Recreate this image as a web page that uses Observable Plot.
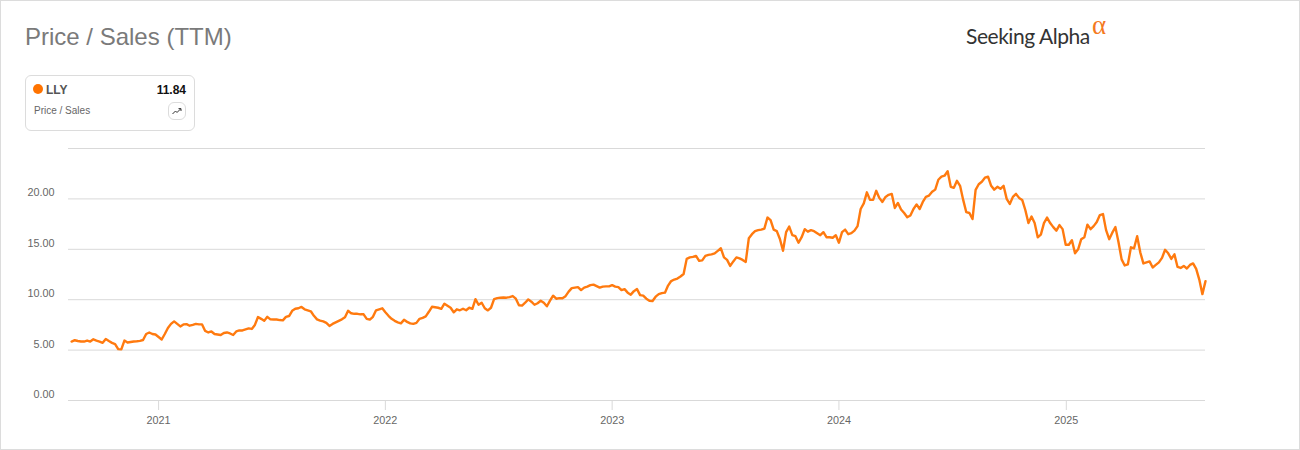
<!DOCTYPE html>
<html>
<head>
<meta charset="utf-8">
<script src="https://cdn.jsdelivr.net/npm/d3@7"></script>
<script src="https://cdn.jsdelivr.net/npm/@observablehq/plot@0.6"></script>
<style>
html,body{margin:0;padding:0;background:#fff;}
#page{position:relative;width:1300px;height:450px;box-sizing:border-box;overflow:hidden;font-family:"Liberation Sans",Arial,sans-serif;}
#frame{position:absolute;inset:0;border:1px solid #dcdcdc;box-sizing:border-box;pointer-events:none;}
#head{position:relative;height:140px;}
#title{position:absolute;left:25px;top:23px;font-size:24px;line-height:28px;color:#7a7a7a;}
#logo{position:absolute;left:966px;top:22px;width:125px;white-space:nowrap;font-family:Lato,sans-serif;font-size:21px;line-height:28px;color:#333;letter-spacing:-.45px;font-weight:400;}
#alpha{position:absolute;left:1092px;top:11px;font-family:"Liberation Serif",serif;font-size:27px;line-height:28px;color:#f47a1f;}
#card{position:absolute;left:25px;top:75px;width:170px;height:56px;box-sizing:border-box;border:1px solid #dcdcdc;border-radius:6px;}
#dot{position:absolute;left:7px;top:8px;width:10px;height:10px;border-radius:50%;background:#ff7300;}
#tick{position:absolute;left:20px;top:7px;font-size:12px;line-height:14px;font-weight:700;color:#555;}
#val{position:absolute;right:8px;top:7px;font-size:12px;line-height:14px;font-weight:700;color:#111;}
#sub{position:absolute;left:8px;top:28px;font-size:10px;line-height:14px;color:#666;}
#btn{position:absolute;left:142px;top:26px;width:18px;height:18px;box-sizing:border-box;border:1px solid #dcdcdc;border-radius:6px;}
#btn svg{position:absolute;left:3px;top:3px;}
#chart svg{display:block;background:transparent;}
</style>
</head>
<body>
<div id="page">
  <div id="head">
    <div id="title">Price / Sales (TTM)</div>
    <div id="logo">Seeking Alpha</div>
    <div id="alpha">α</div>
    <div id="card">
      <div id="dot"></div>
      <div id="tick">LLY</div>
      <div id="val">11.84</div>
      <div id="sub">Price / Sales</div>
      <div id="btn"><svg width="10" height="10" viewBox="0 0 10 10"><path d="M0.5 8 L3.5 5 L5 6.5 L8.5 3 M6.5 2.6 L9 2.6 L9 5" fill="none" stroke="#333" stroke-width="1"/></svg></div>
    </div>
  </div>
  <div id="chart"></div>
  <div id="frame"></div>
</div>
<script>
// Series start and sampling interval, then the values
const startDate = "2020-08-09";
const stepDays = 5;
const endDate = "2025-08-13";
const yearTicks = ["2021-01-01","2022-01-01","2023-01-01","2024-01-01","2025-01-01"];
const yTicks = [0,5,10,15,20];
const yGrid = [0,5,10,15,20,25];
const priceToSales = [
5.85,5.98,5.9,5.85,5.85,5.95,5.85,6.07,5.95,5.85,5.72,6.1,5.9,5.72,5.6,5.1,5.07,5.95,5.75,5.8,
5.85,5.88,5.92,6.0,6.6,6.75,6.6,6.55,6.3,6.05,6.6,7.2,7.6,7.85,7.6,7.35,7.55,7.58,7.42,7.5,
7.6,7.55,7.55,6.9,6.75,6.85,6.6,6.55,6.5,6.7,6.75,6.65,6.5,6.85,6.95,6.95,7.05,7.15,7.1,7.5,
8.28,8.1,7.9,8.3,8.05,8.03,8.03,7.98,7.95,8.3,8.38,8.9,9.1,9.15,9.28,9.05,8.95,8.85,8.4,8.05,
7.92,7.85,7.7,7.4,7.6,7.75,7.9,8.05,8.25,8.9,8.65,8.6,8.6,8.55,8.55,8.1,8.02,8.3,8.95,9.05,
9.15,8.75,8.4,8.1,7.9,7.75,7.65,8.0,7.8,7.65,7.6,7.7,8.1,8.2,8.35,8.8,9.3,9.25,9.2,9.1,
9.6,9.4,9.2,8.75,9.05,8.95,9.1,8.95,9.2,9.1,10.05,9.5,9.7,9.15,8.94,9.2,10.05,10.15,10.2,10.22,
10.2,10.25,10.36,10.1,9.45,9.42,9.7,10.03,9.8,9.5,9.65,9.9,9.7,9.35,9.9,10.4,10.1,10.15,10.15,10.35,
10.8,11.15,11.2,11.25,10.95,11.2,11.3,11.45,11.5,11.35,11.2,11.3,11.32,11.32,11.45,11.3,11.25,10.95,11.05,10.7,
10.5,10.85,11.05,10.45,10.4,10.1,9.9,9.87,10.3,10.55,10.65,10.7,11.4,11.85,12.0,12.1,12.3,12.55,14.05,14.2,
14.25,14.35,13.85,13.9,14.35,14.45,14.5,14.6,14.85,15.1,14.2,13.95,13.35,13.8,14.2,14.1,13.95,13.75,16.1,16.5,
16.8,16.9,16.95,17.05,18.15,17.9,16.95,16.8,16.02,14.85,16.7,17.25,16.4,16.3,15.65,16.2,17.0,16.75,16.9,16.8,
16.6,16.4,16.7,16.2,16.2,16.15,16.4,15.65,16.7,16.95,16.5,16.6,16.85,17.3,19.0,19.55,20.65,19.9,19.9,20.8,
20.1,19.7,20.2,20.4,20.5,19.1,19.6,18.95,18.6,18.18,18.35,19.0,19.45,19.0,19.7,20.2,20.33,20.7,20.92,21.9,
22.2,22.3,22.75,21.2,21.1,21.8,21.3,19.9,18.68,18.6,18.0,20.9,21.45,21.7,22.1,22.2,21.3,20.92,21.2,21.0,
21.3,20.0,19.5,20.2,20.5,20.1,19.9,18.9,17.6,18.25,17.6,16.2,16.45,17.6,18.15,17.6,17.2,16.85,17.4,17.0,
15.45,15.45,15.9,14.6,15.0,16.0,16.2,17.45,17.0,17.3,17.7,18.4,18.5,16.9,16.0,16.65,17.2,15.7,14.0,13.4,
13.5,15.2,15.1,16.3,14.7,13.6,13.7,13.8,13.2,13.45,13.7,14.15,14.95,14.6,14.05,14.5,13.25,13.15,13.35,13.1,
13.45,13.6,13.05,12.0,10.55,11.84
];

const t0 = new Date(startDate + "T00:00:00Z");
const rows = priceToSales.map((v, i) => ({date: d3.utcDay.offset(t0, (i + 1) * stepDays), value: v}));
const font = '"Liberation Sans",Arial,sans-serif';

const chart = Plot.plot({
  width: 1300,
  height: 310,
  marginTop: 8,
  marginBottom: 50,
  marginLeft: 68,
  marginRight: 95,
  style: {fontFamily: font, fontSize: "10.8px", background: "transparent", overflow: "visible"},
  x: {type: "utc", domain: [t0, new Date(endDate + "T00:00:00Z")]},
  y: {domain: [0, 25]},
  marks: [
    Plot.gridY(yGrid, {stroke: "#d9d9d9", strokeOpacity: 1, strokeWidth: 1}),
    Plot.axisY({ticks: yTicks, tickSize: 0, tickPadding: 14, tickFormat: d3.format(".2f"), fill: "#666", dy: -6, label: null}),
    Plot.axisX({ticks: yearTicks.map(d => new Date(d + "T00:00:00Z")), tickSize: 10, tickPadding: 6, tickFormat: d3.utcFormat("%Y"), stroke: "#d9d9d9", fill: "#666", label: null, strokeOpacity: 1}),
    Plot.lineY(rows, {x: "date", y: "value", stroke: "#ff7a0f", strokeWidth: 2.4, curve: "linear", strokeLinejoin: "round"})
  ]
});
document.getElementById("chart").appendChild(chart);
</script>
</body>
</html>
